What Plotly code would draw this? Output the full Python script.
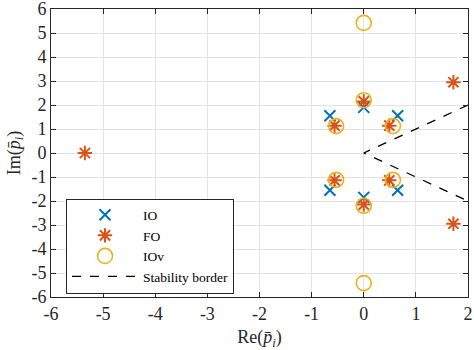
import plotly.graph_objects as go

io_re = [-0.65, 0.65, 0.0, -0.65, 0.65, 0.0]
io_im = [1.55, 1.55, 1.9, -1.55, -1.55, -1.85]
fo_re = [-5.35, 1.72, -0.56, 0.49, 0.0, -0.56, 0.49, 0.0, 1.72]
fo_im = [0.0, 2.95, 1.14, 1.14, 2.15, -1.14, -1.14, -2.15, -2.95]
iov_re = [0.0, -0.53, 0.56, 0.0, -0.53, 0.56, 0.0, 0.0]
iov_im = [5.42, 1.12, 1.12, 2.2, -1.12, -1.12, -2.2, -5.42]
border_re = [2, 0, 2]
border_im = [2, 0, -2]

x_ticks = [-6, -5, -4, -3, -2, -1, 0, 1, 2]
y_ticks = [-6, -5, -4, -3, -2, -1, 0, 1, 2, 3, 4, 5, 6]

FONT = "Liberation Serif"

fig = go.Figure()
fig.add_trace(go.Scatter(x=io_re, y=io_im, mode="markers", name="IO",
                         marker=dict(symbol="x-thin", size=11, color="#0072BD",
                                     line=dict(color="#0072BD", width=2))))
fig.add_trace(go.Scatter(x=fo_re, y=fo_im, mode="markers", name="FO",
                         marker=dict(symbol="asterisk", size=12, color="#D95319",
                                     line=dict(color="#D95319", width=2))))
fig.add_trace(go.Scatter(x=iov_re, y=iov_im, mode="markers", name="IOv",
                         marker=dict(symbol="circle-open", size=15, color="#EDB120",
                                     line=dict(color="#EDB120", width=1.6))))
fig.add_trace(go.Scatter(x=border_re, y=border_im, mode="lines", name="Stability border",
                         line=dict(color="black", width=1.3, dash="dash")))

axis_common = dict(showgrid=True, gridcolor="#e3e3e3", gridwidth=1,
                   showline=True, linecolor="#262626", linewidth=1, mirror="ticks",
                   ticks="inside", ticklen=5, tickcolor="#262626",
                   ticklabeloverflow="allow", automargin=False,
                   zeroline=False, tickfont=dict(family=FONT, size=18, color="#262626"))

fig.update_xaxes(range=[-6, 2], tickvals=x_ticks, ticktext=[str(v) for v in x_ticks],
                 title=dict(text="Re(<i>p̄</i><sub><i>i</i></sub>)", standoff=10,
                            font=dict(family=FONT, size=18, color="#262626")),
                 **axis_common)
fig.update_yaxes(range=[-6, 6], tickvals=y_ticks, ticktext=[str(v) for v in y_ticks],
                 title=dict(text="Im(<i>p̄</i><sub><i>i</i></sub>)", standoff=6,
                            font=dict(family=FONT, size=18, color="#262626")),
                 **axis_common)

fig.update_layout(
    width=474, height=350,
    margin=dict(l=51, r=6, t=9, b=53),
    plot_bgcolor="white", paper_bgcolor="white",
    showlegend=True,
    legend=dict(x=0.036, y=0.177, xanchor="left", yanchor="middle",
                bgcolor="white", bordercolor="#262626", borderwidth=1,
                font=dict(family=FONT, size=13.5, color="black"),
                itemwidth=66, tracegroupgap=0),
)

fig.write_html("out.html")
